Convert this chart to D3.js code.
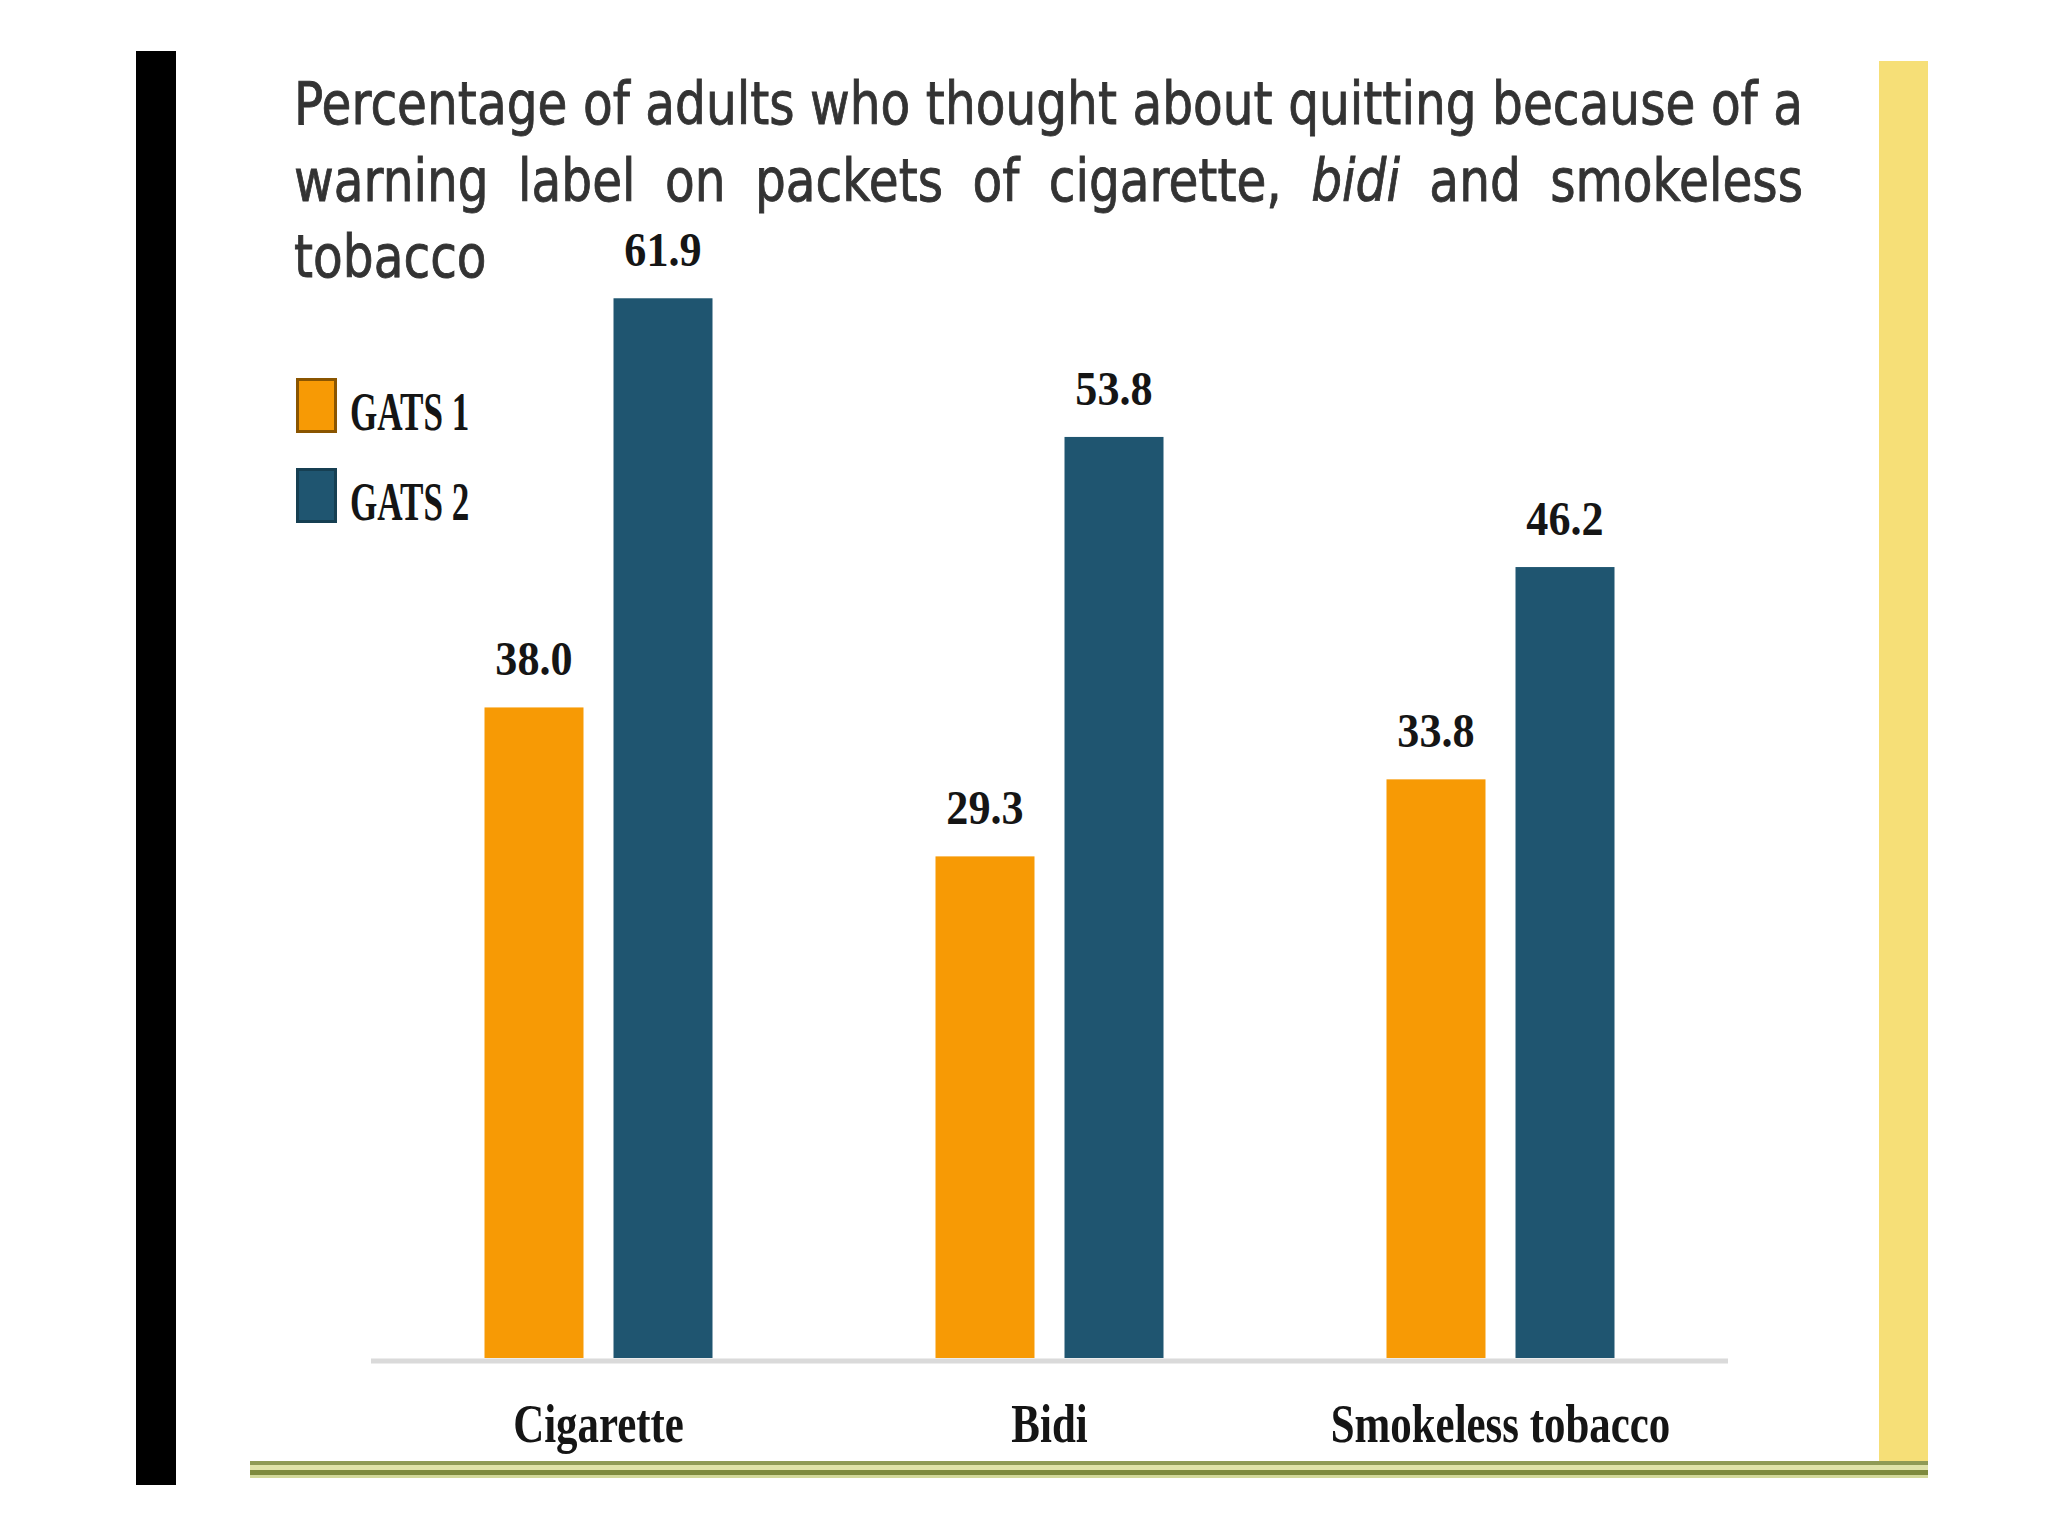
<!DOCTYPE html>
<html><head><meta charset="utf-8">
<script src="https://cdn.jsdelivr.net/npm/d3@7"></script>
<style>body{margin:0;background:#fff;overflow:hidden}</style>
</head><body>
<svg id="chart" width="2048" height="1536"></svg>
<script>
// ---- data ----
const categories = ["Cigarette", "Bidi", "Smokeless tobacco"];
const seriesNames = ["GATS 1", "GATS 2"];
const gats1Values = [38.0, 29.3, 33.8];
const gats2Values = [61.9, 53.8, 46.2];
const seriesColors = ["#F79A05", "#1F5570"];
const legendBorders = ["#8a5500", "#163f52"];
const titleLines = [
  "Percentage of adults who thought about quitting because of a",
  "warning label on packets of cigarette, *bidi* and smokeless",
  "tobacco"
];

// ---- setup ----
const svg = d3.select("#chart");
svg.append("rect").attr("width", 2048).attr("height", 1536).attr("fill", "#fff");

// decorative frame pieces
svg.append("rect").attr("x", 136).attr("y", 51).attr("width", 40).attr("height", 1434).attr("fill", "#000");
svg.append("rect").attr("x", 1879).attr("y", 61).attr("width", 49).attr("height", 1402).attr("fill", "#F6DF77");
const bl = svg.append("g");
bl.append("rect").attr("x", 250).attr("y", 1461).attr("width", 1678).attr("height", 4).attr("fill", "#8f9a55");
bl.append("rect").attr("x", 250).attr("y", 1465).attr("width", 1678).attr("height", 5).attr("fill", "#dfe2a8");
bl.append("rect").attr("x", 250).attr("y", 1470).attr("width", 1678).attr("height", 5).attr("fill", "#7e8a3e");
bl.append("rect").attr("x", 250).attr("y", 1475).attr("width", 1678).attr("height", 3).attr("fill", "#d2d89a");

// ---- scales ----
const baseY = 1358;
const y = d3.scaleLinear().domain([0, 70]).range([baseY, baseY - 70 * 17.12]);
const x0 = d3.scaleBand().domain(categories).range([373, 1726]).padding(0);
const groupW = 228;
const x1 = d3.scaleBand().domain(seriesNames).range([0, groupW]).paddingInner(0.2326).paddingOuter(0);
const color = d3.scaleOrdinal().domain(seriesNames).range(seriesColors);

// axis baseline
svg.append("line").attr("x1", 371).attr("x2", 1728).attr("y1", 1361).attr("y2", 1361)
  .attr("stroke", "#dadada").attr("stroke-width", 5);

const data = categories.map((c, i) => ({cat: c, vals: [gats1Values[i], gats2Values[i]]}));

const groups = svg.append("g").selectAll("g").data(data).join("g")
  .attr("transform", d => `translate(${x0(d.cat) + x0.bandwidth() / 2 - groupW / 2},0)`);

groups.selectAll("rect").data(d => d.vals.map((v, j) => ({s: seriesNames[j], v})))
  .join("rect")
  .attr("x", d => x1(d.s)).attr("width", x1.bandwidth())
  .attr("y", d => y(d.v)).attr("height", d => baseY - y(d.v))
  .attr("fill", d => color(d.s));

const serif = "'Liberation Serif', 'DejaVu Serif', serif";

groups.selectAll("g.lbl").data(d => d.vals.map((v, j) => ({s: seriesNames[j], v})))
  .join("g").attr("class", "lbl")
  .attr("transform", d => `translate(${x1(d.s) + x1.bandwidth() / 2},${y(d.v) - 32}) scale(0.92,1)`)
  .append("text").attr("text-anchor", "middle")
  .attr("font-family", serif).attr("font-weight", "bold").attr("font-size", 48).attr("fill", "#151515")
  .text(d => d.v.toFixed(1));

// category labels
svg.append("g").selectAll("g").data(categories).join("g")
  .attr("transform", d => `translate(${x0(d) + x0.bandwidth() / 2},1442) scale(0.78,1)`)
  .append("text").attr("text-anchor", "middle")
  .attr("font-family", serif).attr("font-weight", "bold").attr("font-size", 55).attr("fill", "#151515")
  .text(d => d);

// legend
const leg = svg.append("g").selectAll("g").data(seriesNames).join("g")
  .attr("transform", (d, i) => `translate(296,${378 + i * 90})`);
leg.append("rect").attr("x", 1.5).attr("y", 1.5).attr("width", 38).attr("height", 52)
  .attr("fill", d => color(d)).attr("stroke", (d, i) => legendBorders[i]).attr("stroke-width", 3);
leg.append("g").attr("transform", "translate(54,52) scale(0.65,1)")
  .append("text").attr("font-family", serif).attr("font-weight", "bold").attr("font-size", 54)
  .attr("fill", "#151515").text(d => d);

// title (justified, condensed)
const titleFont = "'DejaVu Sans', Verdana, sans-serif";
const tX = 294, tW = 1509, tSize = 59;
const baselines = [124, 201, 277];
const meas = svg.append("text").attr("font-family", titleFont).attr("font-size", tSize).attr("visibility", "hidden");
function wordWidth(w, italic) {
  meas.attr("font-style", italic ? "italic" : "normal").text(w);
  return meas.node().getComputedTextLength();
}
function parseWords(line) {
  return line.split(" ").map(w => {
    const it = w.startsWith("*") && w.endsWith("*");
    return {w: it ? w.slice(1, -1) : w, it};
  });
}
const spaceW = wordWidth("a a", false) - wordWidth("aa", false);
const l1 = parseWords(titleLines[0]);
const nat1 = d3.sum(l1, d => wordWidth(d.w, d.it)) + spaceW * (l1.length - 1);
const sx = tW / nat1;
titleLines.forEach((line, li) => {
  const words = parseWords(line);
  const widths = words.map(d => wordWidth(d.w, d.it));
  const justify = li < titleLines.length - 1;
  const gap = justify ? (tW / sx - d3.sum(widths)) / (words.length - 1) : spaceW;
  let cx = 0;
  const g = svg.append("g").attr("transform", `translate(${tX},${baselines[li]}) scale(${sx},1)`);
  words.forEach((d, k) => {
    g.append("text").attr("x", cx).attr("font-family", titleFont).attr("font-size", tSize)
      .attr("font-style", d.it ? "italic" : "normal").attr("fill", "#333")
      .attr("stroke", "#333").attr("stroke-width", 0.9).text(d.w);
    cx += widths[k] + gap;
  });
});
meas.remove();
</script>
</body></html>
